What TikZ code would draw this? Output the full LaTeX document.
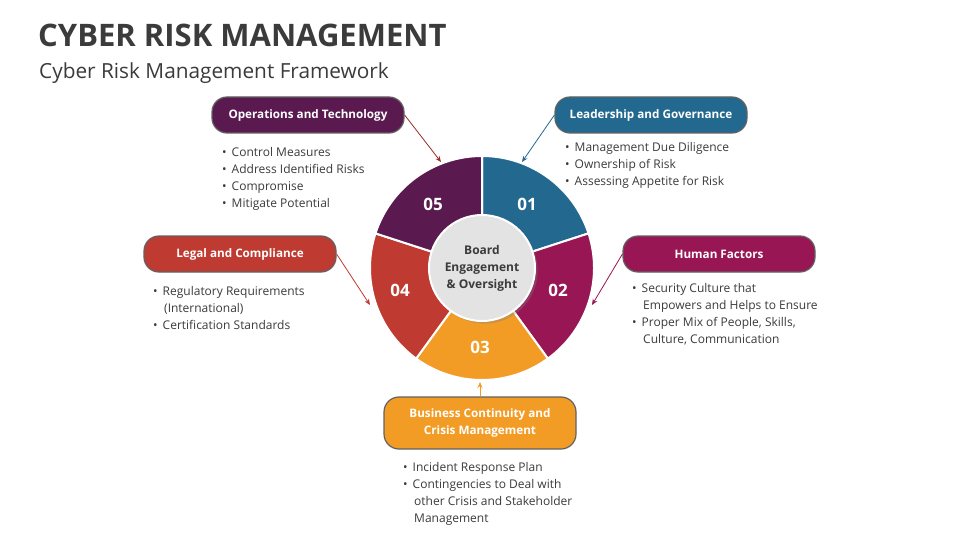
\documentclass[tikz,border=0pt]{standalone}
\usepackage{fontspec}
\setmainfont{Open Sans}
\usetikzlibrary{arrows.meta,shadows,calc}
\definecolor{cblue}{HTML}{23698F}
\definecolor{cmag}{HTML}{981653}
\definecolor{corg}{HTML}{F29C26}
\definecolor{cred}{HTML}{BF3A30}
\definecolor{cpur}{HTML}{5A1A4F}
\definecolor{ttl}{HTML}{3B3B3B}
\begin{document}
\begin{tikzpicture}[x=1pt,y=-1pt,
 hbox/.style={draw=ttl!80,line width=1.2pt,rounded corners=15pt,minimum width=192pt,minimum height=36pt,text=white,font=\bfseries\fontsize{11.7}{17}\selectfont,align=center},
 num/.style={text=white,font=\bfseries\fontsize{17}{20}\selectfont},
 blist/.style={anchor=north west,text=ttl,font=\fontsize{12}{17}\selectfont,align=left,inner sep=0pt},
 conn/.style={-{Stealth[length=6pt,width=5pt]},line width=0.8pt}]
\useasboundingbox (0,0) rectangle (960,540);
\fill[white] (0,0) rectangle (960,540);
\node[anchor=west,text=ttl,font=\bfseries\fontsize{31}{36}\selectfont,inner sep=0pt] (title) at (38,35) {CYBER RISK MANAGEMENT};
\node[anchor=west,text=ttl,font=\fontsize{20.8}{24}\selectfont,inner sep=0pt] (sub) at (39,73) {Cyber Risk Management Framework};
\coordinate (c) at (482,268);
\def\R{112}
\foreach \a/\col in {90/cblue,18/cmag,-54/corg,-126/cred,-198/cpur}{
 \fill[\col,draw=white,line width=2pt] ($(c)+(-\a:\R)$) arc[start angle=-\a,end angle=-\a+72,radius=\R] -- (c) -- cycle;
}
\node[circle,fill=gray!22,draw=white,line width=2pt,minimum size=106pt,drop shadow={opacity=0.35},text=ttl,font=\bfseries\fontsize{12}{17}\selectfont,align=center] (core) at (c) {Board\\Engagement\\\& Oversight};
\node[num] (n1) at (527,204) {01};
\node[num] (n2) at (558,290) {02};
\node[num] (n3) at (480,347) {03};
\node[num] (n4) at (400,290) {04};
\node[num] (n5) at (433,204) {05};
\node[hbox,fill=cpur] (ops) at (308,115) {Operations and Technology};
\node[hbox,fill=cblue] (lead) at (651,115) {Leadership and Governance};
\node[hbox,fill=cred] (legal) at (240,254) {Legal and Compliance};
\node[hbox,fill=cmag] (hum) at (719,254) {Human Factors};
\node[hbox,fill=corg,minimum height=52pt] (bus) at (480,423) {Business Continuity and\\Crisis Management};
\coordinate (a5) at (441,162);
\coordinate (a1) at (522,162);
\coordinate (a4) at (370,305);
\coordinate (a2) at (592,305);
\coordinate (a3) at (480,382);
\draw[conn,cred!80!black] (ops.east) -- (a5);
\draw[conn,cblue] (lead.west) -- (a1);
\draw[conn,cred] (legal.east) -- (a4);
\draw[conn,cmag] (hum.west) -- (a2);
\draw[conn,corg] (bus.north) -- (a3);
\node[blist] (l5) at (222,147) {•\hspace{5pt}Control Measures\\•\hspace{5pt}Address Identified Risks\\•\hspace{5pt}Compromise\\•\hspace{5pt}Mitigate Potential};
\node[blist] (l1) at (565,142) {•\hspace{5pt}Management Due Diligence\\•\hspace{5pt}Ownership of Risk\\•\hspace{5pt}Assessing Appetite for Risk};
\node[blist] (l4) at (153,286) {•\hspace{5pt}Regulatory Requirements\\\hspace{11pt}(International)\\•\hspace{5pt}Certification Standards};
\node[blist] (l2) at (632,283) {•\hspace{5pt}Security Culture that\\\hspace{11pt}Empowers and Helps to Ensure\\•\hspace{5pt}Proper Mix of People, Skills,\\\hspace{11pt}Culture, Communication};
\node[blist] (l3) at (403,462) {•\hspace{5pt}Incident Response Plan\\•\hspace{5pt}Contingencies to Deal with\\\hspace{11pt}other Crisis and Stakeholder\\\hspace{11pt}Management};
\end{tikzpicture}
\end{document}
